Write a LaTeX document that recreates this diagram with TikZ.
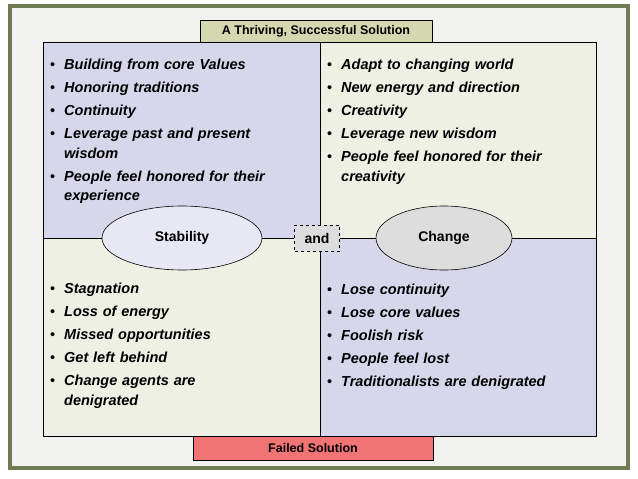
\documentclass[tikz,border=0pt]{standalone}
\usepackage{fontspec}
\setmainfont{Liberation Sans}
\usetikzlibrary{shapes.geometric}
\definecolor{lav}{HTML}{D7D7EC}
\definecolor{lgr}{HTML}{EFF0E4}
\definecolor{olive}{HTML}{6F7B52}
\definecolor{bggray}{HTML}{F2F2F0}
\definecolor{topc}{HTML}{D4D7AF}
\definecolor{redc}{HTML}{F07474}
\definecolor{stabc}{HTML}{E8E8F5}
\definecolor{chgc}{HTML}{DDDDDD}
\newcommand{\bl}[1]{\par\noindent\hangindent=14pt\hangafter=1\makebox[14pt][l]{\normalfont\textbullet}\textit{#1}\par\vspace{3.5pt}}
\begin{document}
\begin{tikzpicture}[x=1pt,y=-1pt,
  quad/.style={draw=black,line width=0.6pt},
  txt/.style={anchor=north west,inner sep=0pt,text width=290pt,font=\bfseries\fontsize{14.5}{19.5}\selectfont},
  lab/.style={draw=black,line width=0.6pt,font=\bfseries\fontsize{12.5}{14}\selectfont,inner sep=0pt,minimum height=22pt},
  ell/.style={draw=black,ellipse,line width=0.6pt,font=\bfseries\fontsize{14}{16}\selectfont}]
\useasboundingbox (0,0) rectangle (638,479);
\draw[olive,line width=4pt,fill=bggray] (10,6) rectangle (628,468);
\fill[lav] (43,42) rectangle (320,238);
\fill[lgr] (320,42) rectangle (596,238);
\fill[lgr] (43,238) rectangle (320,436);
\fill[lav] (320,238) rectangle (596,436);
\draw[quad] (43,42) rectangle (596,436);
\draw[quad] (320,42) -- (320,436);
\coordinate (L) at (43,238);
\coordinate (R) at (596,238);
\node[lab,fill=topc,minimum width=232pt] (top) at (316,31) {A Thriving, Successful Solution};
\node[lab,fill=redc,minimum width=240pt,minimum height=24pt] (bot) at (313,448) {Failed Solution};
\node[txt] (tl) at (50,50) {\bl{Building from core Values}\bl{Honoring traditions}\bl{Continuity}\bl{Leverage past and present\newline wisdom}\bl{People feel honored for their\newline experience}};
\node[txt] (tr) at (327,50) {\bl{Adapt to changing world}\bl{New energy and direction}\bl{Creativity}\bl{Leverage new wisdom}\bl{People feel honored for their\newline creativity}};
\node[txt] (bl) at (50,274) {\bl{Stagnation}\bl{Loss of energy}\bl{Missed opportunities}\bl{Get left behind}\bl{Change agents are\newline denigrated}};
\node[txt] (br) at (327,275) {\bl{Lose continuity}\bl{Lose core values}\bl{Foolish risk}\bl{People feel lost}\bl{Traditionalists are denigrated}};
\node[ell,fill=stabc,minimum width=160pt,minimum height=64pt] (stab) at (182,238) {Stability};
\node[ell,fill=chgc,minimum width=136pt,minimum height=64pt] (chg) at (444,238) {Change};
\node[draw=black,dashed,fill=chgc,font=\bfseries\fontsize{14}{16}\selectfont,minimum width=45pt,minimum height=26pt,inner sep=0pt] (and) at (317,238) {and};
\draw[line width=0.6pt] (L) -- (stab.west);
\draw[line width=0.6pt] (stab.east) -- (and.west);
\draw[line width=0.6pt] (and.east) -- (chg.west);
\draw[line width=0.6pt] (chg.east) -- (R);
\end{tikzpicture}
\end{document}
